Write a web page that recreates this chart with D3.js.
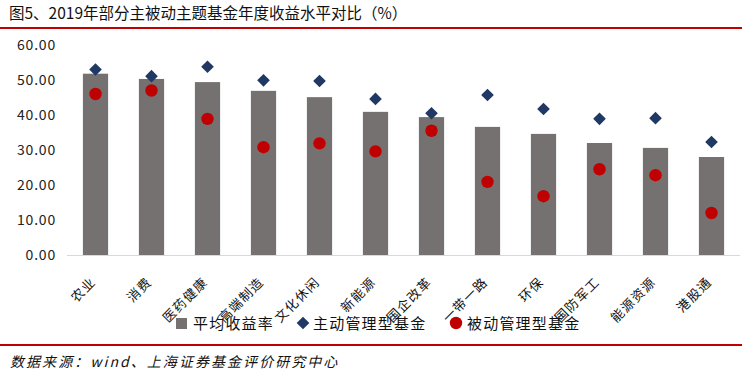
<!DOCTYPE html>
<html><head><meta charset="utf-8">
<script src="https://cdn.jsdelivr.net/npm/d3@7"></script>
<style>
body{margin:0;background:#fff;}
svg{display:block;}
text{font-family:"Noto Sans CJK SC","Noto Sans",sans-serif;}
</style></head>
<body><svg id="c" width="742" height="390"></svg>
<script>
const categories = ["农业","消费","医药健康","高端制造","文化休闲","新能源","国企改革","一带一路","环保","国防军工","能源资源","港股通"];
const avgReturn = [51.8,50.3,49.4,46.9,45.1,40.9,39.4,36.6,34.6,32.0,30.6,28.0];
const activeFund = [53.0,51.1,53.8,49.9,49.7,44.6,40.5,45.7,41.7,38.9,39.1,32.3];
const passiveFund = [46.0,47.0,38.9,30.8,31.9,29.6,35.5,20.9,16.8,24.5,22.8,12.0];
const yTicks = [0,10,20,30,40,50,60];
const seriesNames = ["平均收益率","主动管理型基金","被动管理型基金"];
const titleText = "图5、2019年部分主被动主题基金年度收益水平对比（%）";
const sourceText = "数据来源：wind、上海证券基金评价研究中心";

const svg = d3.select("#c");
const barColor = "#767171", activeColor = "#1f3864", passiveColor = "#c00000", red = "#c00000";

// title
svg.append("text").attr("x",9).attr("y",19).attr("font-size",15.5).attr("letter-spacing",0)
  .attr("fill","#111").text(titleText);
svg.append("rect").attr("x",0).attr("y",27).attr("width",742).attr("height",2).attr("fill",red);

const x = d3.scaleBand().domain(categories).range([67.5,739.5]).paddingInner(0.55).paddingOuter(0.275);
const y = d3.scaleLinear().domain([0,60]).range([255,45]);

// y axis labels
svg.append("g").selectAll("text").data(yTicks).join("text")
  .attr("x",56).attr("y",d=>y(d)+5).attr("text-anchor","end")
  .attr("font-size",14).attr("letter-spacing",0.8).attr("fill","#222")
  .text(d=>d3.format(".2f")(d));

// bars
svg.append("g").selectAll("rect").data(categories).join("rect")
  .attr("x",d=>x(d)).attr("width",x.bandwidth())
  .attr("y",(d,i)=>y(avgReturn[i])).attr("height",(d,i)=>y(0)-y(avgReturn[i]))
  .attr("fill",barColor);

// axis line
svg.append("line").attr("x1",67).attr("x2",740).attr("y1",y(0)+0.5).attr("y2",y(0)+0.5)
  .attr("stroke","#d9d9d9").attr("stroke-width",1.2);

// diamonds
const diamond = d3.symbol().type(d3.symbolSquare).size(80);
svg.append("g").selectAll("path").data(categories).join("path")
  .attr("d",diamond)
  .attr("transform",(d,i)=>`translate(${x(d)+x.bandwidth()/2},${y(activeFund[i])}) rotate(45)`)
  .attr("fill",activeColor);

// circles
svg.append("g").selectAll("circle").data(categories).join("circle")
  .attr("cx",d=>x(d)+x.bandwidth()/2).attr("cy",(d,i)=>y(passiveFund[i])).attr("r",6.2)
  .attr("fill",passiveColor);

// x labels
svg.append("g").selectAll("text").data(categories).join("text")
  .attr("transform",d=>`translate(${x(d)+x.bandwidth()/2+1},${283}) rotate(-45)`)
  .attr("text-anchor","end").attr("font-size",13).attr("letter-spacing",1.2).attr("fill","#111")
  .text(d=>d);

// legend
const lg = svg.append("g");
lg.append("rect").attr("x",176).attr("y",318).attr("width",11).attr("height",11).attr("fill",barColor);
lg.append("text").attr("x",193).attr("y",329).attr("font-size",15).attr("letter-spacing",1.2).attr("fill","#111").text(seriesNames[0]);
lg.append("path").attr("d",diamond).attr("transform","translate(303,323) rotate(45)").attr("fill",activeColor);
lg.append("text").attr("x",313).attr("y",329).attr("font-size",15).attr("letter-spacing",1.2).attr("fill","#111").text(seriesNames[1]);
lg.append("circle").attr("cx",456).attr("cy",323).attr("r",6.2).attr("fill",passiveColor);
lg.append("text").attr("x",467).attr("y",329).attr("font-size",15).attr("letter-spacing",1.2).attr("fill","#111").text(seriesNames[2]);

// bottom
svg.append("rect").attr("x",0).attr("y",344).attr("width",742).attr("height",2).attr("fill",red);
svg.append("text").attr("x",10).attr("y",367).attr("font-size",14).attr("font-style","italic")
  .attr("letter-spacing",2.05).attr("fill","#111").text(sourceText);
</script></body></html>
